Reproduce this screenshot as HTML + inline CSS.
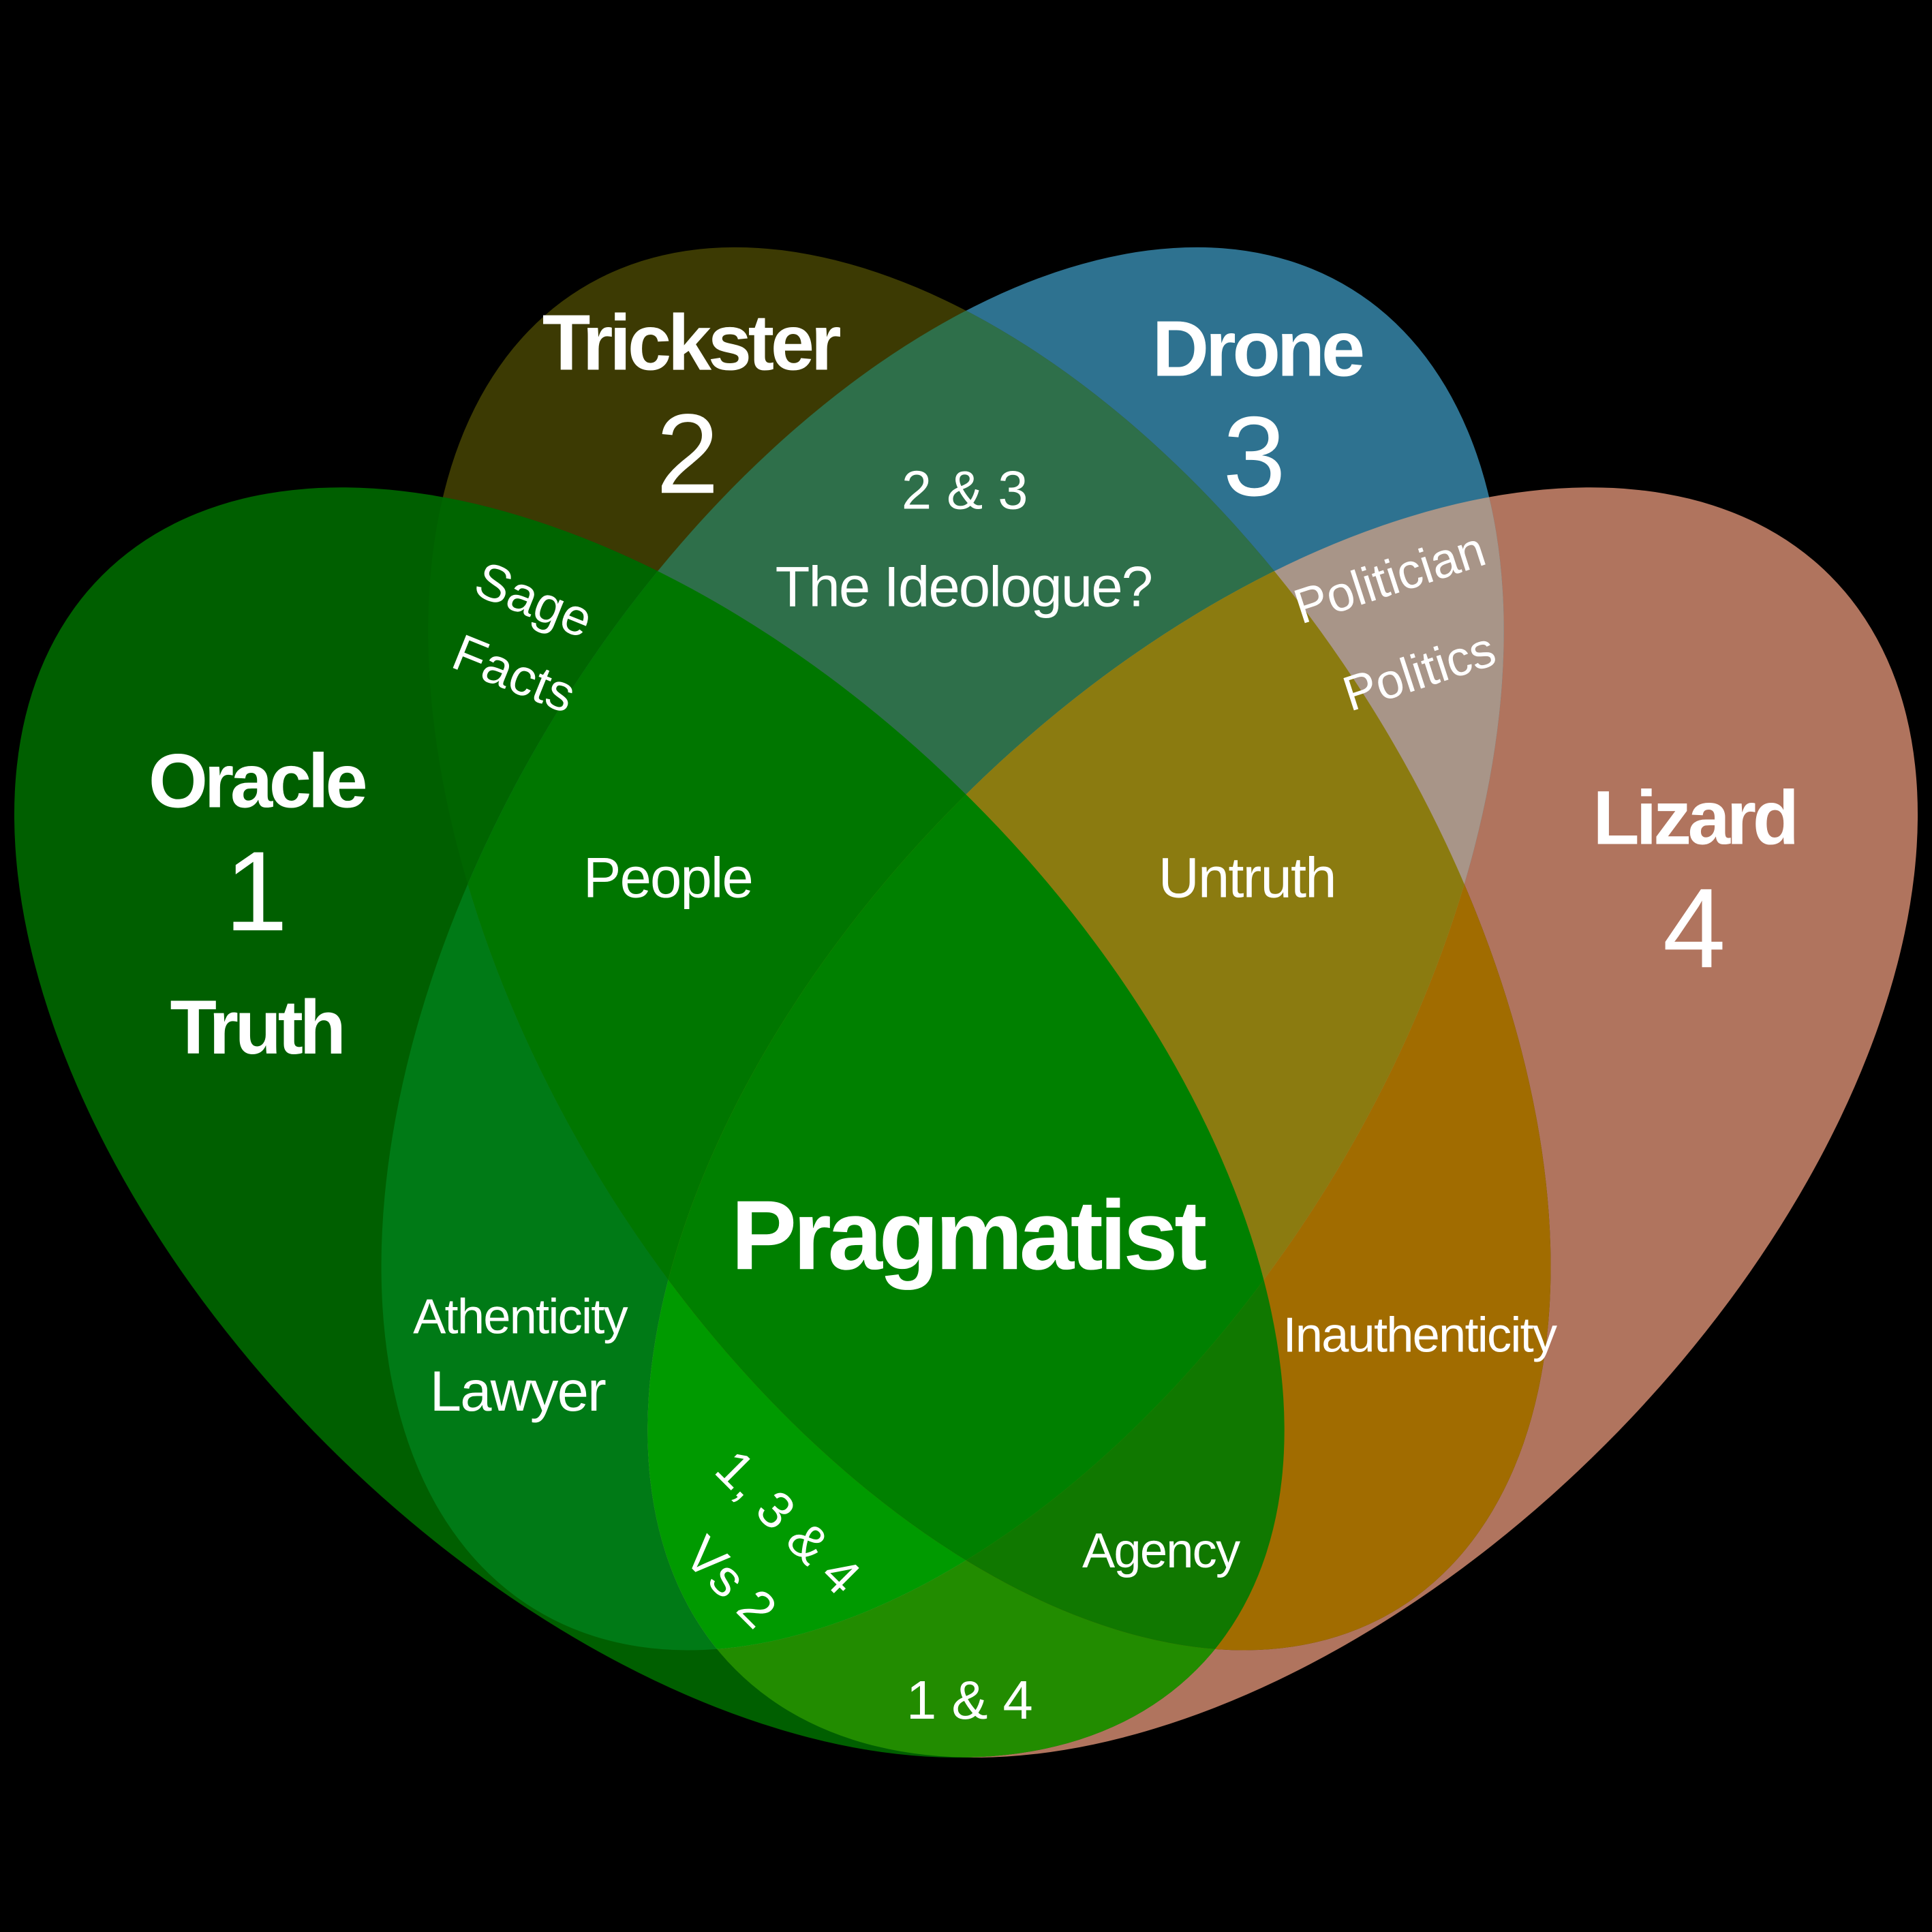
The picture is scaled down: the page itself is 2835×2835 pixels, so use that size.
<!DOCTYPE html>
<html><head><meta charset="utf-8"><style>
html,body{margin:0;padding:0;background:#000}
svg{display:block}
text{font-family:"Liberation Sans","DejaVu Sans",sans-serif;fill:#fff;text-anchor:middle}
.b{font-weight:bold;letter-spacing:-3px}
</style></head><body>
<svg width="2835" height="2835" viewBox="0 0 1568 1568" xmlns="http://www.w3.org/2000/svg">
<defs>
<ellipse id="e1" cx="0" cy="0" rx="628" ry="370" transform="translate(527,911) rotate(45)"/>
<ellipse id="e2" cx="0" cy="0" rx="630" ry="367" transform="translate(803,770) rotate(58.2)"/>
<ellipse id="e3" cx="0" cy="0" rx="630" ry="367" transform="translate(765,770) rotate(-58.2)"/>
<ellipse id="e4" cx="0" cy="0" rx="628" ry="370" transform="translate(1041,911) rotate(-45)"/>
<clipPath id="c1"><use href="#e1"/></clipPath>
<clipPath id="c2"><use href="#e2"/></clipPath>
<clipPath id="c3"><use href="#e3"/></clipPath>
<clipPath id="c4"><use href="#e4"/></clipPath>
</defs>
<rect width="1568" height="1568" fill="#000"/>
<use href="#e4" fill="#b0745e"/>
<use href="#e3" fill="#2e7290"/>
<use href="#e2" fill="#3c3a03"/>
<use href="#e1" fill="#005f00"/>
<g clip-path="url(#c1)"><use href="#e2" fill="#006500"/></g>
<g clip-path="url(#c1)"><use href="#e3" fill="#007a16"/></g>
<g clip-path="url(#c1)"><use href="#e4" fill="#228c00"/></g>
<g clip-path="url(#c2)"><use href="#e3" fill="#2e6f4a"/></g>
<g clip-path="url(#c2)"><use href="#e4" fill="#a16c00"/></g>
<g clip-path="url(#c3)"><use href="#e4" fill="#a89588"/></g>
<g clip-path="url(#c1)"><g clip-path="url(#c2)"><use href="#e3" fill="#007600"/></g></g>
<g clip-path="url(#c1)"><g clip-path="url(#c2)"><use href="#e4" fill="#107800"/></g></g>
<g clip-path="url(#c1)"><g clip-path="url(#c3)"><use href="#e4" fill="#009a00"/></g></g>
<g clip-path="url(#c2)"><g clip-path="url(#c3)"><use href="#e4" fill="#8b7b10"/></g></g>
<g clip-path="url(#c1)"><g clip-path="url(#c2)"><g clip-path="url(#c3)"><use href="#e4" fill="#008000"/></g></g></g>

<text class="b" x="560" y="300" font-size="64">Trickster</text>
<text x="558" y="400" font-size="92">2</text>
<text class="b" x="1020" y="305" font-size="64">Drone</text>
<text x="1018" y="402" font-size="92">3</text>
<text x="783" y="413" font-size="44">2 &amp; 3</text>
<text x="782" y="492" font-size="46" letter-spacing="-1">The Ideologue?</text>
<text x="428" y="500" font-size="42" transform="rotate(22 428 500)">Sage</text>
<text x="412" y="560" font-size="42" transform="rotate(22 412 560)">Facts</text>
<text x="1132" y="482" font-size="40" transform="rotate(-18 1132 482)">Politician</text>
<text x="1156" y="558" font-size="40" transform="rotate(-18 1156 558)">Politics</text>
<text class="b" x="208" y="655" font-size="62">Oracle</text>
<text x="208" y="755" font-size="92">1</text>
<text class="b" x="208" y="855" font-size="62">Truth</text>
<text class="b" x="1375" y="685" font-size="62">Lizard</text>
<text x="1375" y="785" font-size="92">4</text>
<text x="542" y="728" font-size="46" letter-spacing="-1">People</text>
<text x="1012" y="728" font-size="46" letter-spacing="-1">Untruth</text>
<text class="b" x="785" y="1030" font-size="80">Pragmatist</text>
<text x="422" y="1082" font-size="40" letter-spacing="-1">Athenticity</text>
<text x="420" y="1145" font-size="46" letter-spacing="-1">Lawyer</text>
<text x="1152" y="1097" font-size="40" letter-spacing="-1">Inauthenticity</text>
<text x="640" y="1250" font-size="42" transform="rotate(45 640 1235)">1, 3 &amp; 4</text>
<text x="592" y="1298" font-size="42" transform="rotate(45 592 1285)">Vs 2</text>
<text x="942" y="1272" font-size="40" letter-spacing="-1">Agency</text>
<text x="787" y="1395" font-size="44">1 &amp; 4</text>
</svg>
</body></html>
